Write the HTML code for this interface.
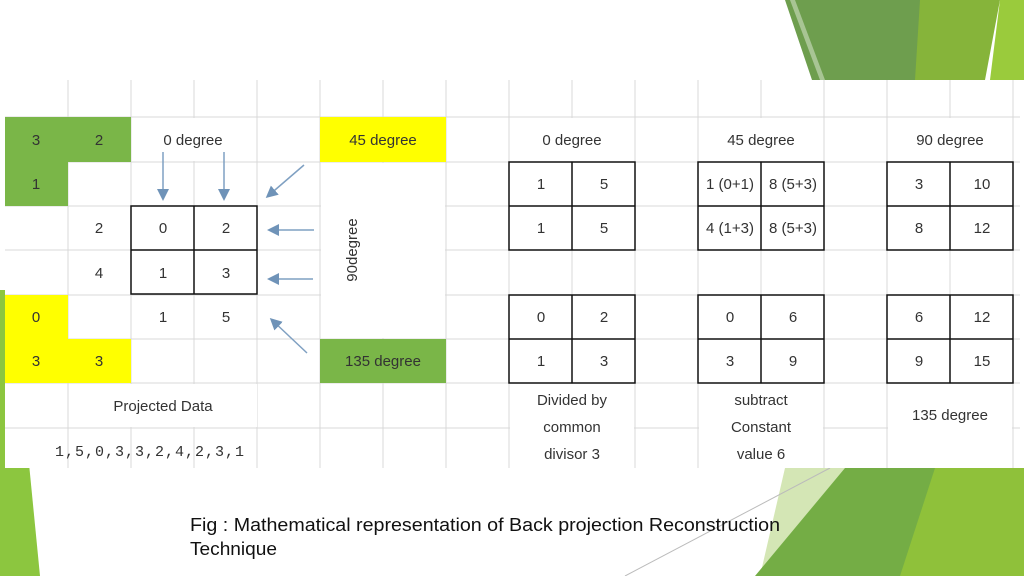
<!DOCTYPE html>
<html><head><meta charset="utf-8"><style>
html,body{margin:0;padding:0;background:#fff;width:1024px;height:576px;overflow:hidden}
svg{display:block}
text{font-family:"Liberation Sans",sans-serif;font-size:15px;fill:#333}
</style></head><body>
<svg width="1024" height="576" viewBox="0 0 1024 576">
<polygon points="0,290 12,290 40,576 0,576" fill="#8cc63f"/>
<polygon points="785,0 945,0 930,80 812,80" fill="#6e9e4e"/>
<polygon points="920,0 1000,0 985,80 915,80" fill="#86b43a"/>
<polygon points="1000,0 1024,0 1024,80 990,80" fill="#9acb3c"/>
<polygon points="790,0 795,0 825,80 820,80" fill="#fff" opacity="0.4"/>
<polygon points="785,468 845,468 800,576 760,576" fill="#d4e6b5"/>
<polygon points="845,468 1024,468 1024,576 755,576" fill="#74ad45"/>
<polygon points="935,468 1024,468 1024,576 900,576" fill="#8fc13a"/>
<line x1="830" y1="468" x2="625" y2="576" stroke="#bbb" stroke-width="1"/>
<rect x="5" y="80" width="1015" height="388" fill="#fff"/>
<g stroke="#d8d8d8" stroke-width="1">
<line x1="68" y1="80" x2="68" y2="468"/><line x1="131" y1="80" x2="131" y2="468"/>
<line x1="194" y1="80" x2="194" y2="468"/><line x1="257" y1="80" x2="257" y2="468"/>
<line x1="320" y1="80" x2="320" y2="468"/><line x1="383" y1="80" x2="383" y2="468"/>
<line x1="446" y1="80" x2="446" y2="468"/><line x1="509" y1="80" x2="509" y2="468"/>
<line x1="572" y1="80" x2="572" y2="468"/><line x1="635" y1="80" x2="635" y2="468"/>
<line x1="698" y1="80" x2="698" y2="468"/><line x1="761" y1="80" x2="761" y2="468"/>
<line x1="824" y1="80" x2="824" y2="468"/><line x1="887" y1="80" x2="887" y2="468"/>
<line x1="950" y1="80" x2="950" y2="468"/><line x1="1013" y1="80" x2="1013" y2="468"/>
<line x1="5" y1="117" x2="1020" y2="117"/><line x1="5" y1="162" x2="1020" y2="162"/>
<line x1="5" y1="206" x2="1020" y2="206"/><line x1="5" y1="250" x2="1020" y2="250"/>
<line x1="5" y1="295" x2="1020" y2="295"/><line x1="5" y1="339" x2="1020" y2="339"/>
<line x1="5" y1="383" x2="1020" y2="383"/><line x1="5" y1="428" x2="1020" y2="428"/>
</g>
<rect x="132" y="118" width="124" height="43" fill="#fff"/>
<rect x="510" y="118" width="124" height="43" fill="#fff"/>
<rect x="699" y="118" width="124" height="43" fill="#fff"/>
<rect x="888" y="118" width="124" height="43" fill="#fff"/>
<rect x="69" y="384" width="188" height="43" fill="#fff"/>
<rect x="510" y="384" width="124" height="84" fill="#fff"/>
<rect x="699" y="384" width="124" height="84" fill="#fff"/>
<rect x="888" y="384" width="124" height="84" fill="#fff"/>
<rect x="321" y="163" width="124" height="175" fill="#fff"/>
<rect x="5" y="117" width="126" height="45" fill="#7ab648"/>
<rect x="5" y="162" width="63" height="44" fill="#7ab648"/>
<rect x="5" y="295" width="63" height="44" fill="#ffff00"/>
<rect x="5" y="339" width="126" height="44" fill="#ffff00"/>
<rect x="320" y="117" width="126" height="45" fill="#ffff00"/>
<rect x="320" y="339" width="126" height="44" fill="#7ab648"/>
<g stroke="#111" stroke-width="1.5" fill="none">
<rect x="131" y="206" width="126" height="88"/><line x1="194" y1="206" x2="194" y2="294"/><line x1="131" y1="250" x2="257" y2="250"/>
<rect x="509" y="162" width="126" height="88"/><line x1="572" y1="162" x2="572" y2="250"/><line x1="509" y1="206" x2="635" y2="206"/>
<rect x="698" y="162" width="126" height="88"/><line x1="761" y1="162" x2="761" y2="250"/><line x1="698" y1="206" x2="824" y2="206"/>
<rect x="887" y="162" width="126" height="88"/><line x1="950" y1="162" x2="950" y2="250"/><line x1="887" y1="206" x2="1013" y2="206"/>
<rect x="509" y="295" width="126" height="88"/><line x1="572" y1="295" x2="572" y2="383"/><line x1="509" y1="339" x2="635" y2="339"/>
<rect x="698" y="295" width="126" height="88"/><line x1="761" y1="295" x2="761" y2="383"/><line x1="698" y1="339" x2="824" y2="339"/>
<rect x="887" y="295" width="126" height="88"/><line x1="950" y1="295" x2="950" y2="383"/><line x1="887" y1="339" x2="1013" y2="339"/>
</g>
<defs><marker id="a" markerWidth="8" markerHeight="8" refX="6" refY="4" orient="auto"><path d="M0,0 L8,4 L0,8 z" fill="#6f93b8"/></marker></defs>
<g stroke="#7fa0c2" stroke-width="1.5" marker-end="url(#a)">
<line x1="163" y1="152" x2="163" y2="198"/>
<line x1="224" y1="152" x2="224" y2="198"/>
<line x1="304" y1="165" x2="268" y2="196"/>
<line x1="314" y1="230" x2="270" y2="230"/>
<line x1="313" y1="279" x2="270" y2="279"/>
<line x1="307" y1="353" x2="272" y2="320"/>
</g>
<g text-anchor="middle">
<text x="36" y="145">3</text><text x="99" y="145">2</text><text x="193" y="145">0 degree</text>
<text x="383" y="145">45 degree</text>
<text x="36" y="189">1</text>
<text x="99" y="233">2</text><text x="163" y="233">0</text><text x="226" y="233">2</text>
<text x="99" y="278">4</text><text x="163" y="278">1</text><text x="226" y="278">3</text>
<text x="36" y="322">0</text><text x="163" y="322">1</text><text x="226" y="322">5</text>
<text x="36" y="366">3</text><text x="99" y="366">3</text><text x="383" y="366">135 degree</text>
<text x="163" y="411">Projected Data</text>
<text x="572" y="145">0 degree</text><text x="761" y="145">45 degree</text><text x="950" y="145">90 degree</text>
<text x="541" y="189">1</text><text x="604" y="189">5</text>
<text x="541" y="233">1</text><text x="604" y="233">5</text>
<text x="730" y="189">1 (0+1)</text><text x="793" y="189">8 (5+3)</text>
<text x="730" y="233">4 (1+3)</text><text x="793" y="233">8 (5+3)</text>
<text x="919" y="189">3</text><text x="982" y="189">10</text>
<text x="919" y="233">8</text><text x="982" y="233">12</text>
<text x="541" y="322">0</text><text x="604" y="322">2</text>
<text x="541" y="366">1</text><text x="604" y="366">3</text>
<text x="730" y="322">0</text><text x="793" y="322">6</text>
<text x="730" y="366">3</text><text x="793" y="366">9</text>
<text x="919" y="322">6</text><text x="982" y="322">12</text>
<text x="919" y="366">9</text><text x="982" y="366">15</text>
<text x="572" y="405">Divided by</text><text x="572" y="432">common</text><text x="572" y="459">divisor 3</text>
<text x="761" y="405">subtract</text><text x="761" y="432">Constant</text><text x="761" y="459">value 6</text>
<text x="950" y="420">135 degree</text>
</g>
<text x="55" y="456" style="font-family:'Liberation Mono',monospace;font-size:15px" letter-spacing="1">1,5,0,3,3,2,4,2,3,1</text>
<text transform="translate(357,250) rotate(-90)" text-anchor="middle">90degree</text>
<text x="190" y="531" style="font-size:18px;fill:#111" textLength="590" lengthAdjust="spacingAndGlyphs">Fig : Mathematical representation of Back projection Reconstruction</text>
<text x="190" y="555" style="font-size:18px;fill:#111" textLength="87" lengthAdjust="spacingAndGlyphs">Technique</text>
</svg>
</body></html>
